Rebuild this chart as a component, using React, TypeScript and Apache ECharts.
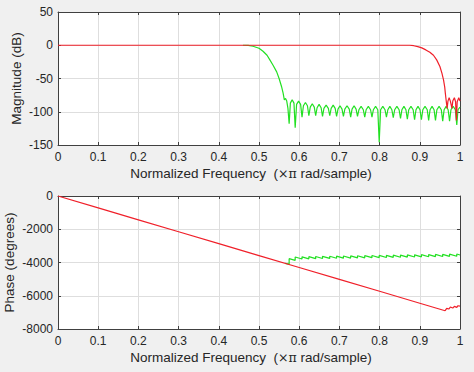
import React, { useEffect, useRef } from "react";
import * as echarts from "echarts";

const xTickLabels = ["0", "0.1", "0.2", "0.3", "0.4", "0.5", "0.6", "0.7", "0.8", "0.9", "1"];
const magTickLabels = ["-150", "-100", "-50", "0", "50"];
const phaseTickLabels = ["-8000", "-6000", "-4000", "-2000", "0"];

// Magnitude (dB) of the red filter
const magRed: [number, number][] = [
  [0, 0], [0.875, 0], [0.885, -0.7], [0.895, -2], [0.905, -4], [0.915, -7], [0.925, -10.5],
  [0.934, -15], [0.942, -22], [0.95, -32], [0.955, -42], [0.959, -52], [0.962, -63],
  [0.9635, -72], [0.965, -80], [0.967, -90], [0.968, -95],
  [0.970, -84], [0.973, -79], [0.976, -84], [0.980, -95],
  [0.982, -84], [0.986, -79], [0.989, -85], [0.991, -113],
  [0.993, -85], [0.997, -79], [1.0, -84],
];

// Magnitude (dB) of the green filter (visible part; below 0.46 it lies under the red line)
const magGreen: [number, number][] = [
  [0.46, 0], [0.473, -0.3], [0.485, -1.5], [0.5, -4.5], [0.51, -9], [0.52, -15],
  [0.527, -22], [0.535, -30], [0.544, -40], [0.55, -50], [0.556, -62], [0.56, -72], [0.563, -82],
  [0.566, -80], [0.569, -84], [0.572, -95], [0.575, -118],
  [0.578, -87], [0.5825, -82], [0.587, -87], [0.59, -124],
  [0.5935, -89], [0.5985, -84], [0.6035, -89], [0.607, -108],
  [0.6105, -91], [0.6155, -86], [0.6205, -91], [0.624, -106],
  [0.6275, -93], [0.6325, -88], [0.6375, -93], [0.641, -106],
  [0.6445, -94], [0.6495, -89], [0.6545, -94], [0.658, -107],
  [0.6615, -95], [0.667, -90], [0.6725, -95], [0.676, -106],
  [0.6795, -95], [0.6845, -90], [0.6895, -95], [0.693, -107],
  [0.6965, -96], [0.7015, -91], [0.7065, -96], [0.71, -107],
  [0.7135, -96], [0.719, -91], [0.7245, -96], [0.728, -108],
  [0.7315, -96], [0.7365, -91], [0.7415, -96], [0.745, -107],
  [0.7485, -97], [0.754, -92], [0.7595, -97], [0.763, -108],
  [0.7665, -97], [0.772, -92], [0.7775, -97], [0.781, -108],
  [0.7845, -97], [0.79, -92], [0.7955, -97], [0.799, -146],
  [0.8025, -97], [0.808, -92], [0.8135, -97], [0.817, -108],
  [0.8205, -97], [0.8255, -92], [0.8305, -97], [0.834, -109],
  [0.8375, -97], [0.843, -92], [0.8485, -97], [0.852, -110],
  [0.8555, -97], [0.8605, -92], [0.8655, -97], [0.869, -111],
  [0.8725, -97], [0.878, -92], [0.8835, -97], [0.887, -112],
  [0.8905, -97], [0.8955, -92], [0.9005, -97], [0.904, -112],
  [0.9075, -97], [0.913, -92], [0.9185, -97], [0.922, -113],
  [0.9255, -97], [0.9305, -92], [0.9355, -97], [0.939, -113],
  [0.9425, -97], [0.948, -92], [0.9535, -97], [0.957, -114],
  [0.9605, -97], [0.9655, -92], [0.9705, -97], [0.974, -114],
  [0.9775, -97], [0.983, -92], [0.9885, -97], [0.992, -120],
  [0.995, -97], [1.0, -93],
];

// Phase (degrees) of the red filter
const phaseRed: [number, number][] = [
  [0, 0], [0.1, -717], [0.2, -1433], [0.3, -2150], [0.4, -2866], [0.5, -3583],
  [0.6, -4299], [0.7, -5016], [0.8, -5732], [0.9, -6449], [0.963, -6900],
  [0.967, -6760], [0.972, -6800], [0.976, -6680], [0.982, -6740], [0.986, -6640],
  [0.992, -6700], [0.995, -6600], [1.0, -6620],
];

// Phase (degrees) of the green filter (visible part; below 0.565 it lies under the red line)
const phaseGreen: [number, number][] = [
  [0.565, -4050],
  [0.575, -4100], [0.575, -3770], [0.59, -3870], [0.59, -3670], [0.607, -3790], [0.607, -3660],
  [0.624, -3780], [0.624, -3650], [0.641, -3770], [0.641, -3640], [0.658, -3760], [0.658, -3630],
  [0.676, -3755], [0.676, -3625], [0.693, -3745], [0.693, -3620], [0.71, -3740], [0.71, -3610],
  [0.728, -3735], [0.728, -3605], [0.745, -3725], [0.745, -3595], [0.763, -3720], [0.763, -3590],
  [0.781, -3710], [0.781, -3580], [0.799, -3705], [0.799, -3575], [0.817, -3700], [0.817, -3570],
  [0.834, -3690], [0.834, -3560], [0.852, -3685], [0.852, -3555], [0.869, -3675], [0.869, -3545],
  [0.887, -3670], [0.887, -3540], [0.904, -3660], [0.904, -3530], [0.922, -3655], [0.922, -3525],
  [0.939, -3645], [0.939, -3515], [0.957, -3640], [0.957, -3510], [0.974, -3630], [0.974, -3500],
  [0.992, -3625], [0.992, -3490], [1.0, -3550],
];

const FONT = "'Liberation Sans', Arial, Helvetica, sans-serif";
const TEXT = "#262626";
const AXIS = "#404040";
const GRIDLINE = "#dedede";
const RED = "#f0202a";
const GREEN = "#22e022";

const xName = "Normalized Frequency  ({s|×π} rad/sample)";

function xAxes(gridIndex: number) {
  return [
    {
      type: "value", gridIndex, min: 0, max: 1, interval: 0.1, position: "bottom",
      name: xName, nameLocation: "middle", nameGap: 21, nameMoveOverlap: false,
      nameTextStyle: {
        fontFamily: FONT, fontSize: 13.5, color: TEXT, padding: [0, 16, 0, 0],
        rich: { s: { fontFamily: "'DejaVu Serif', serif", fontSize: 12.5, color: TEXT } },
      },
      axisLine: { show: true, onZero: false, lineStyle: { color: AXIS, width: 1 } },
      axisTick: { show: true, inside: true, length: 3, lineStyle: { color: AXIS } },
      axisLabel: {
        margin: 6, fontFamily: FONT, fontSize: 12, color: TEXT,
        formatter: (v: number) => xTickLabels[Math.round(v * 10)] ?? "",
      },
      splitLine: { show: true, lineStyle: { color: GRIDLINE, width: 1 } },
    },
    {
      type: "value", gridIndex, min: 0, max: 1, interval: 0.1, position: "top",
      axisLine: { show: true, onZero: false, lineStyle: { color: AXIS, width: 1 } },
      axisTick: { show: true, inside: true, length: 3, lineStyle: { color: AXIS } },
      axisLabel: { show: false },
      splitLine: { show: false },
    },
  ];
}

function yAxes(gridIndex: number, min: number, max: number, interval: number, labels: string[], name: string, nameGap: number) {
  return [
    {
      type: "value", gridIndex, min, max, interval, position: "left",
      name, nameLocation: "middle", nameGap, nameMoveOverlap: false,
      nameTextStyle: { fontFamily: FONT, fontSize: 13.5, color: TEXT },
      axisLine: { show: true, onZero: false, lineStyle: { color: AXIS, width: 1 } },
      axisTick: { show: true, inside: true, length: 3, lineStyle: { color: AXIS } },
      axisLabel: {
        margin: 5, fontFamily: FONT, fontSize: 12, color: TEXT,
        formatter: (v: number) => labels[Math.round((v - min) / interval)] ?? "",
      },
      splitLine: { show: true, lineStyle: { color: GRIDLINE, width: 1 } },
    },
    {
      type: "value", gridIndex, min, max, interval, position: "right",
      axisLine: { show: true, onZero: false, lineStyle: { color: AXIS, width: 1 } },
      axisTick: { show: true, inside: true, length: 3, lineStyle: { color: AXIS } },
      axisLabel: { show: false },
      splitLine: { show: false },
    },
  ];
}

function line(data: [number, number][], color: string, xAxisIndex: number, yAxisIndex: number) {
  return {
    type: "line", data, xAxisIndex, yAxisIndex, showSymbol: false, symbol: "none",
    lineStyle: { color, width: 1.2 }, itemStyle: { color }, clip: true,
  };
}

export default function App() {
  const ref = useRef<HTMLDivElement>(null);
  useEffect(() => {
    if (!ref.current) return;
    const chart = echarts.init(ref.current, undefined, { renderer: "svg" });
    chart.setOption({
      animation: false,
      backgroundColor: "#f0f0f0",
      grid: [
        { left: 58, right: 14, top: 12, height: 133, show: true, backgroundColor: "#ffffff", borderWidth: 0, containLabel: false, outerBoundsMode: "none" },
        { left: 58, right: 14, top: 196, height: 133, show: true, backgroundColor: "#ffffff", borderWidth: 0, containLabel: false, outerBoundsMode: "none" },
      ],
      xAxis: [...xAxes(0), ...xAxes(1)],
      yAxis: [
        ...yAxes(0, -150, 50, 50, magTickLabels, "Magnitude (dB)", 35),
        ...yAxes(1, -8000, 0, 2000, phaseTickLabels, "Phase (degrees)", 42),
      ],
      series: [
        line(magGreen, GREEN, 0, 0),
        line(magRed, RED, 0, 0),
        line(phaseGreen, GREEN, 2, 2),
        line(phaseRed, RED, 2, 2),
      ],
    });
    return () => chart.dispose();
  }, []);
  return (
    <div
      ref={ref}
      style={{ position: "fixed", left: 0, top: 0, width: 474, height: 372, background: "#f0f0f0" }}
    />
  );
}
